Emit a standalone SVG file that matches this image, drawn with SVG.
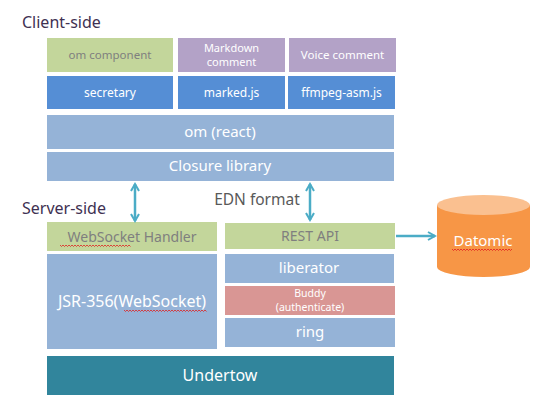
<svg xmlns="http://www.w3.org/2000/svg" width="553" height="409" viewBox="0 0 553 409">
<style>
text{font-family:"Noto Sans","DejaVu Sans",sans-serif;text-anchor:middle;}
.w{fill:#ffffff;}
.g{fill:#7f7f7f;}
.green{fill:#c3d69b;}
.purple{fill:#b3a2c7;}
.blue{fill:#558ed5;}
.lb{fill:#95b3d7;}
.pink{fill:#d99694;}
.teal{fill:#31859c;}
.hdr{fill:#403152;font-size:16px;text-anchor:start;}
.conn{stroke:#4bacc6;stroke-width:2.5;fill:none;}
.sq{stroke:#e02020;stroke-width:0.8;fill:none;}
</style>
<defs>
<marker id="ah" viewBox="0 0 10 10" refX="8" refY="5" markerWidth="4" markerHeight="4" orient="auto-start-reverse">
<path d="M1,1 L8,5 L1,9" fill="none" stroke="#4bacc6" stroke-width="2"/>
</marker>
</defs>
<rect width="553" height="409" fill="#ffffff"/>
<text class="hdr" x="22" y="28">Client-side</text>
<text class="hdr" x="22" y="214">Server-side</text>

<g id="om-component"><rect class="green" x="47" y="38" width="126" height="34"/><text class="g" x="110" y="59" font-size="11.5">om component</text></g>
<g id="markdown-comment"><rect class="purple" x="178" y="38" width="107" height="34"/><text class="w" x="231.5" y="52" font-size="11">Markdown</text><text class="w" x="231.5" y="66" font-size="11">comment</text></g>
<g id="voice-comment"><rect class="purple" x="289" y="38" width="107" height="34"/><text class="w" x="342.5" y="59" font-size="11.5">Voice comment</text></g>

<g id="secretary"><rect class="blue" x="47" y="76" width="126" height="33"/><text class="w" x="110" y="97" font-size="12">secretary</text></g>
<g id="marked-js"><rect class="blue" x="178" y="76" width="107" height="33"/><text class="w" x="231.5" y="97" font-size="12">marked.js</text></g>
<g id="ffmpeg-asm-js"><rect class="blue" x="288" y="76" width="107" height="33"/><text class="w" x="341.5" y="97" font-size="12">ffmpeg-asm.js</text></g>

<g id="om-react"><rect class="lb" x="47" y="115" width="347" height="34"/><text class="w" x="220" y="137" font-size="15">om (react)</text></g>
<g id="closure-library"><rect class="lb" x="47" y="152" width="347" height="29"/><text class="w" x="220" y="171" font-size="15">Closure library</text></g>

<g id="edn-format"><text x="257" y="205" font-size="15.5" fill="#595959">EDN format</text></g>

<g id="websocket-handler"><rect class="green" x="47" y="222" width="170" height="29"/><text class="g" x="132" y="242" font-size="14">WebSocket Handler</text>
<path class="sq" d="M60,245 l1.5,1.5 l1.5,-1.5 l1.5,1.5 l1.5,-1.5 l1.5,1.5 l1.5,-1.5 l1.5,1.5 l1.5,-1.5 l1.5,1.5 l1.5,-1.5 l1.5,1.5 l1.5,-1.5 l1.5,1.5 l1.5,-1.5 l1.5,1.5 l1.5,-1.5 l1.5,1.5 l1.5,-1.5 l1.5,1.5 l1.5,-1.5 l1.5,1.5 l1.5,-1.5 l1.5,1.5 l1.5,-1.5 l1.5,1.5 l1.5,-1.5 l1.5,1.5 l1.5,-1.5 l1.5,1.5 l1.5,-1.5 l1.5,1.5 l1.5,-1.5 l1.5,1.5 l1.5,-1.5 l1.5,1.5 l1.5,-1.5 l1.5,1.5 l1.5,-1.5 l1.5,1.5 l1.5,-1.5 l1.5,1.5 l1.5,-1.5 l1.5,1.5 l1.5,-1.5 l1.5,1.5 l1.5,-1.5 l1.5,1.5"/></g>
<g id="rest-api"><rect class="green" x="225" y="223" width="170" height="26"/><text class="g" x="310" y="241" font-size="14">REST API</text></g>

<g id="jsr-356"><rect class="lb" x="47" y="254" width="170" height="95"/><text class="w" x="132" y="307" font-size="16">JSR-356(WebSocket)</text>
<path class="sq" d="M124,310 l1.5,1.5 l1.5,-1.5 l1.5,1.5 l1.5,-1.5 l1.5,1.5 l1.5,-1.5 l1.5,1.5 l1.5,-1.5 l1.5,1.5 l1.5,-1.5 l1.5,1.5 l1.5,-1.5 l1.5,1.5 l1.5,-1.5 l1.5,1.5 l1.5,-1.5 l1.5,1.5 l1.5,-1.5 l1.5,1.5 l1.5,-1.5 l1.5,1.5 l1.5,-1.5 l1.5,1.5 l1.5,-1.5 l1.5,1.5 l1.5,-1.5 l1.5,1.5 l1.5,-1.5 l1.5,1.5 l1.5,-1.5 l1.5,1.5 l1.5,-1.5 l1.5,1.5 l1.5,-1.5 l1.5,1.5 l1.5,-1.5 l1.5,1.5 l1.5,-1.5 l1.5,1.5 l1.5,-1.5 l1.5,1.5 l1.5,-1.5 l1.5,1.5 l1.5,-1.5 l1.5,1.5 l1.5,-1.5 l1.5,1.5 l1.5,-1.5 l1.5,1.5 l1.5,-1.5 l1.5,1.5 l1.5,-1.5 l1.5,1.5 l1.5,-1.5 l1.5,1.5"/></g>
<g id="liberator"><rect class="lb" x="225" y="254" width="169" height="29"/><text class="w" x="309" y="273" font-size="15">liberator</text></g>
<g id="buddy"><rect class="pink" x="225" y="286" width="170" height="29"/><text class="w" x="310" y="297" font-size="10.5">Buddy</text><text class="w" x="310" y="311" font-size="10.5">(authenticate)</text></g>
<g id="ring"><rect class="lb" x="225" y="318" width="170" height="29"/><text class="w" x="310" y="337" font-size="15">ring</text></g>
<g id="undertow"><rect class="teal" x="47" y="356" width="347" height="39"/><text class="w" x="220" y="381" font-size="16">Undertow</text></g>

<g id="datomic">
<path d="M437,205 L437,267 A46.5,10 0 0 0 530,267 L530,205 Z" fill="#f79646"/>
<ellipse cx="483.5" cy="205" rx="46.5" ry="10" fill="#fac090"/>
<text class="w" x="483" y="246" font-size="15">Datomic</text>
<path class="sq" d="M452,249 l1.5,1.5 l1.5,-1.5 l1.5,1.5 l1.5,-1.5 l1.5,1.5 l1.5,-1.5 l1.5,1.5 l1.5,-1.5 l1.5,1.5 l1.5,-1.5 l1.5,1.5 l1.5,-1.5 l1.5,1.5 l1.5,-1.5 l1.5,1.5 l1.5,-1.5 l1.5,1.5 l1.5,-1.5 l1.5,1.5 l1.5,-1.5 l1.5,1.5 l1.5,-1.5 l1.5,1.5 l1.5,-1.5 l1.5,1.5 l1.5,-1.5 l1.5,1.5 l1.5,-1.5 l1.5,1.5 l1.5,-1.5 l1.5,1.5 l1.5,-1.5 l1.5,1.5 l1.5,-1.5 l1.5,1.5 l1.5,-1.5 l1.5,1.5 l1.5,-1.5 l1.5,1.5 l1.5,-1.5"/>
</g>

<g id="connectors">
<line class="conn" x1="135" y1="184" x2="135" y2="221" marker-start="url(#ah)" marker-end="url(#ah)"/>
<line class="conn" x1="310" y1="184" x2="310" y2="220" marker-start="url(#ah)" marker-end="url(#ah)"/>
<line class="conn" x1="396" y1="236" x2="435" y2="236" marker-end="url(#ah)"/>
</g>
</svg>
